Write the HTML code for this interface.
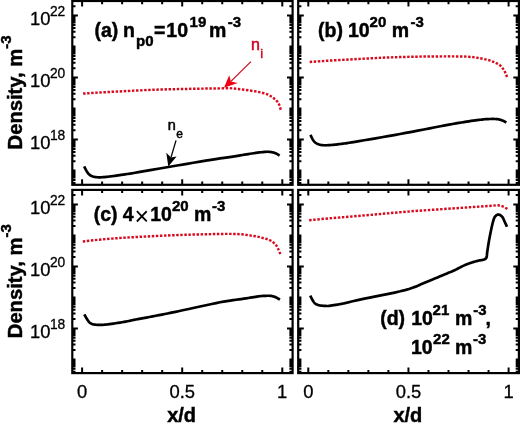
<!DOCTYPE html>
<html><head><meta charset="utf-8"><title>Density</title><style>
html,body{margin:0;padding:0;background:#fff;overflow:hidden}
svg{display:block;filter:blur(0.3px)}
text{font-family:"Liberation Sans",Arial,Helvetica,sans-serif}
.t{font-size:18.4px;stroke:#000;stroke-width:0.3px}
.b{font-weight:bold}
text[font-weight=bold],.b{stroke:#000;stroke-width:0.45px}
</style></head><body>
<svg width="520" height="423" viewBox="0 0 520 423">
<rect width="520" height="423" fill="#fff"/>
<path d="M82.1 184.8V179.2M82.1 1V6.6M102.12 184.8V181.6M102.12 1V4.2M122.14 184.8V181.6M122.14 1V4.2M142.16 184.8V181.6M142.16 1V4.2M162.18 184.8V181.6M162.18 1V4.2M182.2 184.8V179.2M182.2 1V6.6M202.22 184.8V181.6M202.22 1V4.2M222.24 184.8V181.6M222.24 1V4.2M242.26 184.8V181.6M242.26 1V4.2M262.28 184.8V181.6M262.28 1V4.2M282.3 184.8V179.2M282.3 1V6.6M72.3 182.94H75.5M292.6 182.94H289.4M72.3 179.93H75.5M292.6 179.93H289.4M72.3 177.48H75.5M292.6 177.48H289.4M72.3 175.4H75.5M292.6 175.4H289.4M72.3 173.6H75.5M292.6 173.6H289.4M72.3 172.02H75.5M292.6 172.02H289.4M72.3 170.6H75.5M292.6 170.6H289.4M72.3 161.27H75.5M292.6 161.27H289.4M72.3 155.81H75.5M292.6 155.81H289.4M72.3 151.94H75.5M292.6 151.94H289.4M72.3 148.93H75.5M292.6 148.93H289.4M72.3 146.48H75.5M292.6 146.48H289.4M72.3 144.4H75.5M292.6 144.4H289.4M72.3 142.6H75.5M292.6 142.6H289.4M72.3 141.02H75.5M292.6 141.02H289.4M72.3 139.6H77.9M292.6 139.6H287M72.3 130.27H75.5M292.6 130.27H289.4M72.3 124.81H75.5M292.6 124.81H289.4M72.3 120.94H75.5M292.6 120.94H289.4M72.3 117.93H75.5M292.6 117.93H289.4M72.3 115.48H75.5M292.6 115.48H289.4M72.3 113.4H75.5M292.6 113.4H289.4M72.3 111.6H75.5M292.6 111.6H289.4M72.3 110.02H75.5M292.6 110.02H289.4M72.3 108.6H75.5M292.6 108.6H289.4M72.3 99.27H75.5M292.6 99.27H289.4M72.3 93.81H75.5M292.6 93.81H289.4M72.3 89.94H75.5M292.6 89.94H289.4M72.3 86.93H75.5M292.6 86.93H289.4M72.3 84.48H75.5M292.6 84.48H289.4M72.3 82.4H75.5M292.6 82.4H289.4M72.3 80.6H75.5M292.6 80.6H289.4M72.3 79.02H75.5M292.6 79.02H289.4M72.3 77.6H77.9M292.6 77.6H287M72.3 68.27H75.5M292.6 68.27H289.4M72.3 62.81H75.5M292.6 62.81H289.4M72.3 58.94H75.5M292.6 58.94H289.4M72.3 55.93H75.5M292.6 55.93H289.4M72.3 53.48H75.5M292.6 53.48H289.4M72.3 51.4H75.5M292.6 51.4H289.4M72.3 49.6H75.5M292.6 49.6H289.4M72.3 48.02H75.5M292.6 48.02H289.4M72.3 46.6H75.5M292.6 46.6H289.4M72.3 37.27H75.5M292.6 37.27H289.4M72.3 31.81H75.5M292.6 31.81H289.4M72.3 27.94H75.5M292.6 27.94H289.4M72.3 24.93H75.5M292.6 24.93H289.4M72.3 22.48H75.5M292.6 22.48H289.4M72.3 20.4H75.5M292.6 20.4H289.4M72.3 18.6H75.5M292.6 18.6H289.4M72.3 17.02H75.5M292.6 17.02H289.4M72.3 15.6H77.9M292.6 15.6H287M72.3 6.27H75.5M292.6 6.27H289.4" stroke="#000" stroke-width="2.0" fill="none"/>
<rect x="72.3" y="1" width="220.3" height="183.8" stroke="#000" stroke-width="2.2" fill="none"/>
<path d="M308.3 184.8V179.2M308.3 1V6.6M328.33 184.8V181.6M328.33 1V4.2M348.36 184.8V181.6M348.36 1V4.2M368.39 184.8V181.6M368.39 1V4.2M388.42 184.8V181.6M388.42 1V4.2M408.45 184.8V179.2M408.45 1V6.6M428.48 184.8V181.6M428.48 1V4.2M448.51 184.8V181.6M448.51 1V4.2M468.54 184.8V181.6M468.54 1V4.2M488.57 184.8V181.6M488.57 1V4.2M508.6 184.8V179.2M508.6 1V6.6M298.2 182.94H301.4M518.9 182.94H515.7M298.2 179.93H301.4M518.9 179.93H515.7M298.2 177.48H301.4M518.9 177.48H515.7M298.2 175.4H301.4M518.9 175.4H515.7M298.2 173.6H301.4M518.9 173.6H515.7M298.2 172.02H301.4M518.9 172.02H515.7M298.2 170.6H301.4M518.9 170.6H515.7M298.2 161.27H301.4M518.9 161.27H515.7M298.2 155.81H301.4M518.9 155.81H515.7M298.2 151.94H301.4M518.9 151.94H515.7M298.2 148.93H301.4M518.9 148.93H515.7M298.2 146.48H301.4M518.9 146.48H515.7M298.2 144.4H301.4M518.9 144.4H515.7M298.2 142.6H301.4M518.9 142.6H515.7M298.2 141.02H301.4M518.9 141.02H515.7M298.2 139.6H303.8M518.9 139.6H513.3M298.2 130.27H301.4M518.9 130.27H515.7M298.2 124.81H301.4M518.9 124.81H515.7M298.2 120.94H301.4M518.9 120.94H515.7M298.2 117.93H301.4M518.9 117.93H515.7M298.2 115.48H301.4M518.9 115.48H515.7M298.2 113.4H301.4M518.9 113.4H515.7M298.2 111.6H301.4M518.9 111.6H515.7M298.2 110.02H301.4M518.9 110.02H515.7M298.2 108.6H301.4M518.9 108.6H515.7M298.2 99.27H301.4M518.9 99.27H515.7M298.2 93.81H301.4M518.9 93.81H515.7M298.2 89.94H301.4M518.9 89.94H515.7M298.2 86.93H301.4M518.9 86.93H515.7M298.2 84.48H301.4M518.9 84.48H515.7M298.2 82.4H301.4M518.9 82.4H515.7M298.2 80.6H301.4M518.9 80.6H515.7M298.2 79.02H301.4M518.9 79.02H515.7M298.2 77.6H303.8M518.9 77.6H513.3M298.2 68.27H301.4M518.9 68.27H515.7M298.2 62.81H301.4M518.9 62.81H515.7M298.2 58.94H301.4M518.9 58.94H515.7M298.2 55.93H301.4M518.9 55.93H515.7M298.2 53.48H301.4M518.9 53.48H515.7M298.2 51.4H301.4M518.9 51.4H515.7M298.2 49.6H301.4M518.9 49.6H515.7M298.2 48.02H301.4M518.9 48.02H515.7M298.2 46.6H301.4M518.9 46.6H515.7M298.2 37.27H301.4M518.9 37.27H515.7M298.2 31.81H301.4M518.9 31.81H515.7M298.2 27.94H301.4M518.9 27.94H515.7M298.2 24.93H301.4M518.9 24.93H515.7M298.2 22.48H301.4M518.9 22.48H515.7M298.2 20.4H301.4M518.9 20.4H515.7M298.2 18.6H301.4M518.9 18.6H515.7M298.2 17.02H301.4M518.9 17.02H515.7M298.2 15.6H303.8M518.9 15.6H513.3M298.2 6.27H301.4M518.9 6.27H515.7" stroke="#000" stroke-width="2.0" fill="none"/>
<rect x="298.2" y="1" width="220.7" height="183.8" stroke="#000" stroke-width="2.2" fill="none"/>
<path d="M82.1 373.1V367.5M82.1 189.9V195.5M102.12 373.1V369.9M102.12 189.9V193.1M122.14 373.1V369.9M122.14 189.9V193.1M142.16 373.1V369.9M142.16 189.9V193.1M162.18 373.1V369.9M162.18 189.9V193.1M182.2 373.1V367.5M182.2 189.9V195.5M202.22 373.1V369.9M202.22 189.9V193.1M222.24 373.1V369.9M222.24 189.9V193.1M242.26 373.1V369.9M242.26 189.9V193.1M262.28 373.1V369.9M262.28 189.9V193.1M282.3 373.1V367.5M282.3 189.9V195.5M72.3 371.74H75.5M292.6 371.74H289.4M72.3 368.73H75.5M292.6 368.73H289.4M72.3 366.28H75.5M292.6 366.28H289.4M72.3 364.2H75.5M292.6 364.2H289.4M72.3 362.4H75.5M292.6 362.4H289.4M72.3 360.82H75.5M292.6 360.82H289.4M72.3 359.4H75.5M292.6 359.4H289.4M72.3 350.07H75.5M292.6 350.07H289.4M72.3 344.61H75.5M292.6 344.61H289.4M72.3 340.74H75.5M292.6 340.74H289.4M72.3 337.73H75.5M292.6 337.73H289.4M72.3 335.28H75.5M292.6 335.28H289.4M72.3 333.2H75.5M292.6 333.2H289.4M72.3 331.4H75.5M292.6 331.4H289.4M72.3 329.82H75.5M292.6 329.82H289.4M72.3 328.4H77.9M292.6 328.4H287M72.3 319.07H75.5M292.6 319.07H289.4M72.3 313.61H75.5M292.6 313.61H289.4M72.3 309.74H75.5M292.6 309.74H289.4M72.3 306.73H75.5M292.6 306.73H289.4M72.3 304.28H75.5M292.6 304.28H289.4M72.3 302.2H75.5M292.6 302.2H289.4M72.3 300.4H75.5M292.6 300.4H289.4M72.3 298.82H75.5M292.6 298.82H289.4M72.3 297.4H75.5M292.6 297.4H289.4M72.3 288.07H75.5M292.6 288.07H289.4M72.3 282.61H75.5M292.6 282.61H289.4M72.3 278.74H75.5M292.6 278.74H289.4M72.3 275.73H75.5M292.6 275.73H289.4M72.3 273.28H75.5M292.6 273.28H289.4M72.3 271.2H75.5M292.6 271.2H289.4M72.3 269.4H75.5M292.6 269.4H289.4M72.3 267.82H75.5M292.6 267.82H289.4M72.3 266.4H77.9M292.6 266.4H287M72.3 257.07H75.5M292.6 257.07H289.4M72.3 251.61H75.5M292.6 251.61H289.4M72.3 247.74H75.5M292.6 247.74H289.4M72.3 244.73H75.5M292.6 244.73H289.4M72.3 242.28H75.5M292.6 242.28H289.4M72.3 240.2H75.5M292.6 240.2H289.4M72.3 238.4H75.5M292.6 238.4H289.4M72.3 236.82H75.5M292.6 236.82H289.4M72.3 235.4H75.5M292.6 235.4H289.4M72.3 226.07H75.5M292.6 226.07H289.4M72.3 220.61H75.5M292.6 220.61H289.4M72.3 216.74H75.5M292.6 216.74H289.4M72.3 213.73H75.5M292.6 213.73H289.4M72.3 211.28H75.5M292.6 211.28H289.4M72.3 209.2H75.5M292.6 209.2H289.4M72.3 207.4H75.5M292.6 207.4H289.4M72.3 205.82H75.5M292.6 205.82H289.4M72.3 204.4H77.9M292.6 204.4H287M72.3 195.07H75.5M292.6 195.07H289.4" stroke="#000" stroke-width="2.0" fill="none"/>
<rect x="72.3" y="189.9" width="220.3" height="183.2" stroke="#000" stroke-width="2.2" fill="none"/>
<path d="M308.3 373.1V367.5M308.3 189.9V195.5M328.33 373.1V369.9M328.33 189.9V193.1M348.36 373.1V369.9M348.36 189.9V193.1M368.39 373.1V369.9M368.39 189.9V193.1M388.42 373.1V369.9M388.42 189.9V193.1M408.45 373.1V367.5M408.45 189.9V195.5M428.48 373.1V369.9M428.48 189.9V193.1M448.51 373.1V369.9M448.51 189.9V193.1M468.54 373.1V369.9M468.54 189.9V193.1M488.57 373.1V369.9M488.57 189.9V193.1M508.6 373.1V367.5M508.6 189.9V195.5M298.2 371.74H301.4M518.9 371.74H515.7M298.2 368.73H301.4M518.9 368.73H515.7M298.2 366.28H301.4M518.9 366.28H515.7M298.2 364.2H301.4M518.9 364.2H515.7M298.2 362.4H301.4M518.9 362.4H515.7M298.2 360.82H301.4M518.9 360.82H515.7M298.2 359.4H301.4M518.9 359.4H515.7M298.2 350.07H301.4M518.9 350.07H515.7M298.2 344.61H301.4M518.9 344.61H515.7M298.2 340.74H301.4M518.9 340.74H515.7M298.2 337.73H301.4M518.9 337.73H515.7M298.2 335.28H301.4M518.9 335.28H515.7M298.2 333.2H301.4M518.9 333.2H515.7M298.2 331.4H301.4M518.9 331.4H515.7M298.2 329.82H301.4M518.9 329.82H515.7M298.2 328.4H303.8M518.9 328.4H513.3M298.2 319.07H301.4M518.9 319.07H515.7M298.2 313.61H301.4M518.9 313.61H515.7M298.2 309.74H301.4M518.9 309.74H515.7M298.2 306.73H301.4M518.9 306.73H515.7M298.2 304.28H301.4M518.9 304.28H515.7M298.2 302.2H301.4M518.9 302.2H515.7M298.2 300.4H301.4M518.9 300.4H515.7M298.2 298.82H301.4M518.9 298.82H515.7M298.2 297.4H301.4M518.9 297.4H515.7M298.2 288.07H301.4M518.9 288.07H515.7M298.2 282.61H301.4M518.9 282.61H515.7M298.2 278.74H301.4M518.9 278.74H515.7M298.2 275.73H301.4M518.9 275.73H515.7M298.2 273.28H301.4M518.9 273.28H515.7M298.2 271.2H301.4M518.9 271.2H515.7M298.2 269.4H301.4M518.9 269.4H515.7M298.2 267.82H301.4M518.9 267.82H515.7M298.2 266.4H303.8M518.9 266.4H513.3M298.2 257.07H301.4M518.9 257.07H515.7M298.2 251.61H301.4M518.9 251.61H515.7M298.2 247.74H301.4M518.9 247.74H515.7M298.2 244.73H301.4M518.9 244.73H515.7M298.2 242.28H301.4M518.9 242.28H515.7M298.2 240.2H301.4M518.9 240.2H515.7M298.2 238.4H301.4M518.9 238.4H515.7M298.2 236.82H301.4M518.9 236.82H515.7M298.2 235.4H301.4M518.9 235.4H515.7M298.2 226.07H301.4M518.9 226.07H515.7M298.2 220.61H301.4M518.9 220.61H515.7M298.2 216.74H301.4M518.9 216.74H515.7M298.2 213.73H301.4M518.9 213.73H515.7M298.2 211.28H301.4M518.9 211.28H515.7M298.2 209.2H301.4M518.9 209.2H515.7M298.2 207.4H301.4M518.9 207.4H515.7M298.2 205.82H301.4M518.9 205.82H515.7M298.2 204.4H303.8M518.9 204.4H513.3M298.2 195.07H301.4M518.9 195.07H515.7" stroke="#000" stroke-width="2.0" fill="none"/>
<rect x="298.2" y="189.9" width="220.7" height="183.2" stroke="#000" stroke-width="2.2" fill="none"/>
<path d="M84.2 166.4 L84.43 166.86 L84.65 167.32 L84.88 167.79 L85.11 168.26 L85.34 168.72 L85.56 169.17 L85.78 169.6 L86 170 L86.21 170.38 L86.41 170.74 L86.61 171.08 L86.81 171.41 L87.01 171.73 L87.2 172.03 L87.4 172.32 L87.6 172.6 L87.79 172.86 L87.98 173.11 L88.16 173.34 L88.34 173.56 L88.53 173.77 L88.73 173.98 L88.95 174.19 L89.2 174.4 L89.47 174.62 L89.75 174.85 L90.04 175.08 L90.36 175.3 L90.69 175.52 L91.04 175.73 L91.41 175.92 L91.8 176.1 L92.22 176.26 L92.65 176.42 L93.11 176.56 L93.58 176.69 L94.08 176.81 L94.6 176.92 L95.14 177.02 L95.7 177.1 L96.28 177.17 L96.87 177.23 L97.48 177.27 L98.11 177.31 L98.77 177.33 L99.47 177.33 L100.21 177.32 L101 177.3 L101.85 177.26 L102.74 177.2 L103.68 177.13 L104.66 177.04 L105.66 176.94 L106.69 176.83 L107.74 176.72 L108.8 176.6 L109.81 176.49 L110.74 176.38 L111.65 176.27 L112.61 176.16 L113.66 176.02 L114.87 175.85 L116.3 175.65 L118 175.4 L119.74 175.15 L121.37 174.91 L123.06 174.67 L124.98 174.39 L127.31 174.03 L130.23 173.57 L133.9 172.97 L138.5 172.2 L144.41 171.19 L151.62 169.95 L159.74 168.53 L168.37 167.03 L177.11 165.51 L185.56 164.05 L193.32 162.72 L200 161.6 L205.73 160.67 L210.95 159.84 L215.71 159.11 L220.06 158.46 L224.07 157.87 L227.8 157.32 L231.29 156.81 L234.6 156.3 L237.61 155.82 L240.22 155.4 L242.5 155.02 L244.54 154.67 L246.42 154.36 L248.22 154.06 L250.02 153.78 L251.9 153.5 L253.85 153.22 L255.78 152.94 L257.67 152.68 L259.5 152.44 L261.25 152.22 L262.9 152.04 L264.42 151.89 L265.8 151.8 L267.02 151.76 L268.09 151.77 L269.04 151.83 L269.88 151.91 L270.65 152.02 L271.36 152.15 L272.03 152.28 L272.7 152.4 L273.33 152.52 L273.88 152.66 L274.38 152.81 L274.84 152.97 L275.26 153.14 L275.67 153.32 L276.08 153.5 L276.5 153.7 L276.92 153.91 L277.32 154.13 L277.71 154.37 L278.09 154.61 L278.47 154.86 L278.84 155.11 L279.22 155.36 L279.6 155.6" stroke="#000" stroke-width="2.7" fill="none" stroke-linejoin="round" stroke-linecap="butt"/>
<path d="M310.4 134.8 L310.67 135.36 L310.95 135.93 L311.22 136.51 L311.49 137.08 L311.76 137.65 L312.04 138.19 L312.32 138.71 L312.6 139.2 L312.88 139.66 L313.16 140.09 L313.44 140.51 L313.72 140.9 L314.01 141.28 L314.32 141.63 L314.65 141.97 L315 142.3 L315.38 142.61 L315.77 142.9 L316.18 143.18 L316.61 143.44 L317.06 143.68 L317.52 143.9 L318 144.11 L318.5 144.3 L319.01 144.47 L319.52 144.63 L320.04 144.76 L320.59 144.88 L321.16 144.98 L321.76 145.07 L322.41 145.14 L323.1 145.2 L323.83 145.24 L324.58 145.27 L325.37 145.28 L326.19 145.27 L327.06 145.25 L327.98 145.22 L328.95 145.17 L330 145.1 L331.1 145.02 L332.26 144.92 L333.46 144.81 L334.72 144.68 L336.04 144.54 L337.42 144.38 L338.88 144.2 L340.4 144 L341.82 143.82 L343.04 143.66 L344.23 143.5 L345.54 143.32 L347.11 143.08 L349.11 142.77 L351.69 142.35 L355 141.8 L359.17 141.1 L364.11 140.26 L369.65 139.32 L375.6 138.3 L381.79 137.23 L388.04 136.14 L394.17 135.05 L400 134 L405.77 132.93 L411.75 131.8 L417.81 130.64 L423.82 129.47 L429.68 128.33 L435.24 127.25 L440.39 126.27 L445 125.4 L449.05 124.66 L452.66 124.01 L455.89 123.44 L458.81 122.93 L461.49 122.48 L464 122.06 L466.41 121.68 L468.8 121.3 L471.11 120.95 L473.26 120.64 L475.26 120.36 L477.12 120.12 L478.84 119.91 L480.44 119.72 L481.92 119.55 L483.3 119.4 L484.51 119.27 L485.52 119.18 L486.37 119.12 L487.12 119.08 L487.81 119.05 L488.49 119.03 L489.2 119.02 L490 119 L490.88 118.98 L491.8 118.97 L492.73 118.97 L493.67 118.97 L494.58 118.98 L495.45 119.01 L496.27 119.05 L497 119.1 L497.65 119.17 L498.23 119.26 L498.76 119.37 L499.25 119.48 L499.71 119.61 L500.14 119.74 L500.57 119.87 L501 120 L501.43 120.13 L501.84 120.27 L502.23 120.42 L502.61 120.57 L502.97 120.72 L503.32 120.88 L503.67 121.04 L504 121.2 L504.32 121.37 L504.62 121.54 L504.91 121.71 L505.19 121.89 L505.47 122.07 L505.74 122.25 L506.02 122.42 L506.3 122.6" stroke="#000" stroke-width="2.7" fill="none" stroke-linejoin="round" stroke-linecap="butt"/>
<path d="M84.3 314.4 L84.61 314.96 L84.93 315.53 L85.25 316.11 L85.57 316.68 L85.88 317.25 L86.2 317.79 L86.5 318.31 L86.8 318.8 L87.09 319.26 L87.38 319.7 L87.66 320.12 L87.93 320.53 L88.2 320.9 L88.47 321.26 L88.74 321.59 L89 321.9 L89.26 322.18 L89.5 322.42 L89.74 322.64 L89.98 322.84 L90.22 323.02 L90.47 323.18 L90.73 323.34 L91 323.5 L91.28 323.65 L91.57 323.79 L91.86 323.91 L92.16 324.02 L92.47 324.13 L92.79 324.23 L93.14 324.32 L93.5 324.4 L93.89 324.48 L94.29 324.54 L94.72 324.6 L95.16 324.65 L95.61 324.69 L96.07 324.73 L96.53 324.77 L97 324.8 L97.46 324.83 L97.89 324.86 L98.33 324.89 L98.78 324.91 L99.26 324.93 L99.78 324.93 L100.35 324.92 L101 324.9 L101.67 324.87 L102.33 324.84 L103.01 324.81 L103.75 324.76 L104.58 324.69 L105.55 324.59 L106.67 324.47 L108 324.3 L109.58 324.09 L111.41 323.84 L113.43 323.55 L115.56 323.24 L117.75 322.91 L119.93 322.57 L122.03 322.23 L124 321.9 L125.78 321.58 L127.41 321.27 L128.96 320.95 L130.5 320.63 L132.11 320.29 L133.84 319.93 L135.79 319.53 L138 319.1 L140.53 318.62 L143.32 318.1 L146.31 317.55 L149.44 316.98 L152.63 316.38 L155.84 315.79 L158.98 315.19 L162 314.6 L164.84 314.03 L167.54 313.48 L170.17 312.94 L172.81 312.39 L175.54 311.81 L178.43 311.2 L181.56 310.53 L185 309.8 L188.88 308.97 L193.17 308.02 L197.74 307.01 L202.45 305.98 L207.17 304.95 L211.76 303.96 L216.08 303.07 L220 302.3 L223.57 301.65 L226.96 301.1 L230.15 300.61 L233.18 300.18 L236.05 299.78 L238.77 299.42 L241.35 299.06 L243.8 298.7 L246.12 298.34 L248.29 297.99 L250.31 297.66 L252.18 297.36 L253.92 297.07 L255.51 296.82 L256.97 296.59 L258.3 296.4 L259.43 296.25 L260.34 296.14 L261.07 296.06 L261.68 296.01 L262.23 295.98 L262.76 295.95 L263.33 295.93 L264 295.9 L264.75 295.86 L265.53 295.83 L266.32 295.79 L267.11 295.77 L267.88 295.75 L268.63 295.75 L269.34 295.77 L270 295.8 L270.6 295.85 L271.16 295.93 L271.69 296.01 L272.19 296.11 L272.66 296.22 L273.12 296.34 L273.56 296.47 L274 296.6 L274.42 296.74 L274.82 296.88 L275.2 297.03 L275.57 297.19 L275.93 297.35 L276.28 297.53 L276.64 297.71 L277 297.9 L277.37 298.1 L277.73 298.31 L278.09 298.54 L278.46 298.77 L278.82 299 L279.18 299.24 L279.54 299.47 L279.9 299.7" stroke="#000" stroke-width="2.7" fill="none" stroke-linejoin="round" stroke-linecap="butt"/>
<path d="M310.2 295.6 L310.49 296.16 L310.78 296.74 L311.08 297.32 L311.37 297.89 L311.66 298.46 L311.95 299.01 L312.23 299.52 L312.5 300 L312.76 300.44 L313.01 300.86 L313.25 301.25 L313.49 301.62 L313.73 301.97 L313.97 302.29 L314.23 302.61 L314.5 302.9 L314.78 303.18 L315.07 303.43 L315.37 303.66 L315.67 303.87 L315.98 304.07 L316.31 304.26 L316.65 304.43 L317 304.6 L317.36 304.75 L317.74 304.89 L318.12 305.02 L318.51 305.13 L318.92 305.23 L319.36 305.33 L319.82 305.42 L320.3 305.5 L320.82 305.58 L321.38 305.65 L321.97 305.71 L322.58 305.76 L323.19 305.81 L323.81 305.85 L324.41 305.88 L325 305.9 L325.51 305.93 L325.92 305.96 L326.29 306 L326.68 306.02 L327.13 306.02 L327.72 305.99 L328.49 305.92 L329.5 305.8 L330.77 305.63 L332.25 305.42 L333.91 305.17 L335.69 304.89 L337.58 304.58 L339.51 304.24 L341.47 303.88 L343.4 303.5 L345.15 303.13 L346.69 302.77 L348.18 302.4 L349.76 302 L351.58 301.54 L353.79 301.01 L356.55 300.37 L360 299.6 L364.41 298.68 L369.76 297.6 L375.75 296.42 L382.08 295.16 L388.47 293.86 L394.61 292.56 L400.22 291.3 L405 290.1 L409 288.95 L412.51 287.79 L415.62 286.63 L418.42 285.49 L421 284.36 L423.45 283.27 L425.85 282.21 L428.3 281.2 L430.75 280.22 L433.11 279.27 L435.36 278.34 L437.51 277.45 L439.55 276.59 L441.48 275.78 L443.3 275.01 L445 274.3 L446.54 273.66 L447.9 273.09 L449.12 272.59 L450.24 272.12 L451.31 271.67 L452.37 271.21 L453.45 270.73 L454.6 270.2 L455.83 269.61 L457.11 268.98 L458.41 268.32 L459.7 267.66 L460.95 267.02 L462.14 266.41 L463.23 265.87 L464.2 265.4 L465.03 265.02 L465.74 264.71 L466.35 264.46 L466.9 264.25 L467.41 264.06 L467.91 263.89 L468.43 263.7 L469 263.5 L469.59 263.28 L470.18 263.08 L470.76 262.87 L471.34 262.68 L471.93 262.48 L472.53 262.29 L473.15 262.09 L473.8 261.9 L474.49 261.7 L475.24 261.5 L476.01 261.29 L476.79 261.09 L477.56 260.89 L478.3 260.71 L478.98 260.54 L479.6 260.4 L480.14 260.29 L480.62 260.22 L481.06 260.17 L481.46 260.12 L481.84 260.08 L482.21 260.02 L482.6 259.93 L483 259.8 L483.43 259.66 L483.89 259.52 L484.35 259.38 L484.8 259.21 L485.24 259 L485.64 258.72 L486 258.36 L486.3 257.9 L486.53 257.34 L486.7 256.69 L486.82 255.97 L486.91 255.18 L486.99 254.33 L487.07 253.43 L487.17 252.48 L487.3 251.5 L487.46 250.45 L487.64 249.3 L487.82 248.09 L488.01 246.83 L488.21 245.56 L488.41 244.3 L488.6 243.07 L488.8 241.9 L488.99 240.8 L489.17 239.75 L489.36 238.74 L489.54 237.73 L489.74 236.71 L489.94 235.67 L490.16 234.57 L490.4 233.4 L490.66 232.12 L490.95 230.72 L491.25 229.26 L491.57 227.78 L491.89 226.31 L492.2 224.92 L492.51 223.63 L492.8 222.5 L493.07 221.52 L493.31 220.63 L493.55 219.83 L493.78 219.11 L494.02 218.46 L494.28 217.86 L494.57 217.31 L494.9 216.8 L495.27 216.32 L495.67 215.88 L496.1 215.49 L496.54 215.15 L497 214.88 L497.47 214.67 L497.94 214.54 L498.4 214.5 L498.87 214.55 L499.36 214.69 L499.86 214.92 L500.37 215.21 L500.86 215.55 L501.34 215.94 L501.79 216.36 L502.2 216.8 L502.57 217.28 L502.9 217.81 L503.2 218.4 L503.49 219.02 L503.76 219.66 L504.03 220.31 L504.31 220.96 L504.6 221.6 L504.9 222.23 L505.2 222.87 L505.5 223.52 L505.8 224.17 L506.1 224.83 L506.4 225.49 L506.7 226.15 L507 226.8" stroke="#000" stroke-width="2.7" fill="none" stroke-linejoin="round" stroke-linecap="butt"/>
<g fill="#d80a1e"><rect x="83.08" y="92.28" width="2.45" height="2.45" transform="rotate(-3.7 84.3 93.5)"/><rect x="87.14" y="92.01" width="2.45" height="2.45" transform="rotate(-3.7 88.37 93.24)"/><rect x="91.21" y="91.75" width="2.45" height="2.45" transform="rotate(-3.7 92.44 92.97)"/><rect x="95.28" y="91.49" width="2.45" height="2.45" transform="rotate(-3.6 96.51 92.71)"/><rect x="99.35" y="91.24" width="2.45" height="2.45" transform="rotate(-3.4 100.58 92.47)"/><rect x="103.42" y="91" width="2.45" height="2.45" transform="rotate(-3.3 104.65 92.23)"/><rect x="107.49" y="90.77" width="2.45" height="2.45" transform="rotate(-3.2 108.72 92)"/><rect x="111.57" y="90.55" width="2.45" height="2.45" transform="rotate(-3.1 112.79 91.78)"/><rect x="115.64" y="90.34" width="2.45" height="2.45" transform="rotate(-3.0 116.86 91.56)"/><rect x="119.71" y="90.13" width="2.45" height="2.45" transform="rotate(-3.0 120.93 91.35)"/><rect x="123.78" y="89.91" width="2.45" height="2.45" transform="rotate(-3.0 125.01 91.14)"/><rect x="127.85" y="89.7" width="2.45" height="2.45" transform="rotate(-3.1 129.08 90.92)"/><rect x="131.93" y="89.48" width="2.45" height="2.45" transform="rotate(-3.0 133.15 90.71)"/><rect x="136" y="89.27" width="2.45" height="2.45" transform="rotate(-2.9 137.22 90.49)"/><rect x="140.07" y="89.07" width="2.45" height="2.45" transform="rotate(-2.8 141.3 90.29)"/><rect x="144.14" y="88.87" width="2.45" height="2.45" transform="rotate(-2.6 145.37 90.1)"/><rect x="148.22" y="88.69" width="2.45" height="2.45" transform="rotate(-2.4 149.44 89.92)"/><rect x="152.29" y="88.53" width="2.45" height="2.45" transform="rotate(-2.1 153.52 89.75)"/><rect x="156.37" y="88.39" width="2.45" height="2.45" transform="rotate(-1.9 157.59 89.61)"/><rect x="160.44" y="88.26" width="2.45" height="2.45" transform="rotate(-1.6 161.67 89.49)"/><rect x="164.52" y="88.15" width="2.45" height="2.45" transform="rotate(-1.5 165.74 89.37)"/><rect x="168.59" y="88.05" width="2.45" height="2.45" transform="rotate(-1.4 169.82 89.27)"/><rect x="172.67" y="87.96" width="2.45" height="2.45" transform="rotate(-1.3 173.9 89.18)"/><rect x="176.75" y="87.87" width="2.45" height="2.45" transform="rotate(-1.2 177.97 89.09)"/><rect x="180.82" y="87.79" width="2.45" height="2.45" transform="rotate(-1.1 182.05 89.01)"/><rect x="184.9" y="87.71" width="2.45" height="2.45" transform="rotate(-1.1 186.13 88.93)"/><rect x="188.98" y="87.63" width="2.45" height="2.45" transform="rotate(-1.1 190.2 88.85)"/><rect x="193.05" y="87.55" width="2.45" height="2.45" transform="rotate(-1.1 194.28 88.78)"/><rect x="197.13" y="87.47" width="2.45" height="2.45" transform="rotate(-1.0 198.36 88.7)"/><rect x="201.21" y="87.4" width="2.45" height="2.45" transform="rotate(-1.0 202.43 88.63)"/><rect x="205.29" y="87.34" width="2.45" height="2.45" transform="rotate(-0.9 206.51 88.56)"/><rect x="209.36" y="87.28" width="2.45" height="2.45" transform="rotate(-0.8 210.59 88.5)"/><rect x="213.44" y="87.22" width="2.45" height="2.45" transform="rotate(-0.8 214.67 88.44)"/><rect x="217.52" y="87.16" width="2.45" height="2.45" transform="rotate(-0.8 218.74 88.39)"/><rect x="221.59" y="87.11" width="2.45" height="2.45" transform="rotate(-0.7 222.82 88.34)"/><rect x="225.67" y="87.07" width="2.45" height="2.45" transform="rotate(-0.6 226.9 88.29)"/><rect x="229.75" y="87.05" width="2.45" height="2.45" transform="rotate(6.1 230.97 88.28)"/><rect x="233.81" y="87.42" width="2.45" height="2.45" transform="rotate(5.9 235.03 88.65)"/><rect x="237.86" y="87.88" width="2.45" height="2.45" transform="rotate(6.9 239.09 89.11)"/><rect x="241.91" y="88.38" width="2.45" height="2.45" transform="rotate(7.4 243.13 89.61)"/><rect x="245.95" y="88.93" width="2.45" height="2.45" transform="rotate(8.1 247.17 90.16)"/><rect x="249.98" y="89.52" width="2.45" height="2.45" transform="rotate(8.3 251.21 90.75)"/><rect x="254.02" y="90.12" width="2.45" height="2.45" transform="rotate(9.1 255.24 91.35)"/><rect x="258.02" y="90.88" width="2.45" height="2.45" transform="rotate(12.2 259.25 92.1)"/><rect x="261.99" y="91.83" width="2.45" height="2.45" transform="rotate(14.8 263.21 93.05)"/><rect x="265.88" y="93.04" width="2.45" height="2.45" transform="rotate(21.7 267.1 94.26)"/><rect x="269.5" y="94.91" width="2.45" height="2.45" transform="rotate(31.3 270.72 96.13)"/><rect x="272.84" y="97.25" width="2.45" height="2.45" transform="rotate(37.1 274.06 98.47)"/><rect x="275.82" y="100" width="2.45" height="2.45" transform="rotate(52.2 277.05 101.23)"/><rect x="277.88" y="103.51" width="2.45" height="2.45" transform="rotate(66.2 279.11 104.74)"/><rect x="279.17" y="107.37" width="2.45" height="2.45" transform="rotate(71.3 280.4 108.6)"/></g>
<g fill="#d80a1e"><rect x="309.67" y="60.67" width="2.45" height="2.45" transform="rotate(-4.1 310.9 61.9)"/><rect x="313.73" y="60.38" width="2.45" height="2.45" transform="rotate(-4.2 314.96 61.61)"/><rect x="317.79" y="60.09" width="2.45" height="2.45" transform="rotate(-4.1 319.01 61.31)"/><rect x="321.84" y="59.8" width="2.45" height="2.45" transform="rotate(-3.9 323.07 61.03)"/><rect x="325.9" y="59.54" width="2.45" height="2.45" transform="rotate(-3.6 327.13 60.76)"/><rect x="329.96" y="59.29" width="2.45" height="2.45" transform="rotate(-3.4 331.19 60.51)"/><rect x="334.02" y="59.05" width="2.45" height="2.45" transform="rotate(-3.3 335.25 60.27)"/><rect x="338.08" y="58.81" width="2.45" height="2.45" transform="rotate(-3.3 339.31 60.04)"/><rect x="342.14" y="58.58" width="2.45" height="2.45" transform="rotate(-3.2 343.37 59.81)"/><rect x="346.2" y="58.36" width="2.45" height="2.45" transform="rotate(-3.2 347.43 59.58)"/><rect x="350.26" y="58.13" width="2.45" height="2.45" transform="rotate(-3.1 351.49 59.36)"/><rect x="354.32" y="57.91" width="2.45" height="2.45" transform="rotate(-3.1 355.55 59.14)"/><rect x="358.39" y="57.7" width="2.45" height="2.45" transform="rotate(-3.1 359.61 58.92)"/><rect x="362.45" y="57.48" width="2.45" height="2.45" transform="rotate(-3.2 363.67 58.7)"/><rect x="366.51" y="57.25" width="2.45" height="2.45" transform="rotate(-3.2 367.73 58.48)"/><rect x="370.57" y="57.03" width="2.45" height="2.45" transform="rotate(-3.1 371.79 58.25)"/><rect x="374.63" y="56.81" width="2.45" height="2.45" transform="rotate(-3.0 375.85 58.04)"/><rect x="378.69" y="56.61" width="2.45" height="2.45" transform="rotate(-2.8 379.92 57.83)"/><rect x="382.75" y="56.42" width="2.45" height="2.45" transform="rotate(-2.5 383.98 57.64)"/><rect x="386.82" y="56.25" width="2.45" height="2.45" transform="rotate(-2.3 388.04 57.48)"/><rect x="390.88" y="56.09" width="2.45" height="2.45" transform="rotate(-2.1 392.11 57.32)"/><rect x="394.94" y="55.95" width="2.45" height="2.45" transform="rotate(-1.9 396.17 57.18)"/><rect x="399.01" y="55.82" width="2.45" height="2.45" transform="rotate(-1.7 400.23 57.05)"/><rect x="403.07" y="55.71" width="2.45" height="2.45" transform="rotate(-1.5 404.3 56.94)"/><rect x="407.14" y="55.61" width="2.45" height="2.45" transform="rotate(-1.3 408.37 56.84)"/><rect x="411.21" y="55.52" width="2.45" height="2.45" transform="rotate(-1.1 412.43 56.75)"/><rect x="415.27" y="55.45" width="2.45" height="2.45" transform="rotate(-1.0 416.5 56.67)"/><rect x="419.34" y="55.38" width="2.45" height="2.45" transform="rotate(-0.9 420.56 56.61)"/><rect x="423.41" y="55.33" width="2.45" height="2.45" transform="rotate(-0.8 424.63 56.55)"/><rect x="427.47" y="55.27" width="2.45" height="2.45" transform="rotate(-0.7 428.7 56.5)"/><rect x="431.54" y="55.23" width="2.45" height="2.45" transform="rotate(-0.6 432.76 56.46)"/><rect x="435.61" y="55.2" width="2.45" height="2.45" transform="rotate(-0.4 436.83 56.42)"/><rect x="439.67" y="55.17" width="2.45" height="2.45" transform="rotate(-0.3 440.9 56.4)"/><rect x="443.74" y="55.16" width="2.45" height="2.45" transform="rotate(-0.1 444.96 56.38)"/><rect x="447.81" y="55.15" width="2.45" height="2.45" transform="rotate(0.0 449.03 56.38)"/><rect x="451.87" y="55.16" width="2.45" height="2.45" transform="rotate(0.3 453.1 56.39)"/><rect x="455.94" y="55.19" width="2.45" height="2.45" transform="rotate(0.5 457.16 56.42)"/><rect x="460.01" y="55.24" width="2.45" height="2.45" transform="rotate(0.9 461.23 56.47)"/><rect x="464.07" y="55.34" width="2.45" height="2.45" transform="rotate(1.9 465.3 56.56)"/><rect x="468.13" y="55.57" width="2.45" height="2.45" transform="rotate(5.3 469.36 56.8)"/><rect x="472.17" y="56.01" width="2.45" height="2.45" transform="rotate(7.1 473.4 57.24)"/><rect x="476.2" y="56.61" width="2.45" height="2.45" transform="rotate(9.5 477.42 57.84)"/><rect x="480.2" y="57.33" width="2.45" height="2.45" transform="rotate(10.7 481.42 58.55)"/><rect x="484.19" y="58.14" width="2.45" height="2.45" transform="rotate(12.2 485.41 59.36)"/><rect x="488.14" y="59.08" width="2.45" height="2.45" transform="rotate(15.9 489.36 60.31)"/><rect x="491.94" y="60.52" width="2.45" height="2.45" transform="rotate(21.9 493.17 61.74)"/><rect x="495.64" y="62.21" width="2.45" height="2.45" transform="rotate(26.8 496.86 63.43)"/><rect x="499.07" y="64.37" width="2.45" height="2.45" transform="rotate(41.6 500.3 65.59)"/><rect x="501.75" y="67.42" width="2.45" height="2.45" transform="rotate(53.0 502.97 68.65)"/><rect x="503.78" y="70.93" width="2.45" height="2.45" transform="rotate(65.9 505.01 72.16)"/><rect x="505.37" y="74.67" width="2.45" height="2.45" transform="rotate(66.3 506.6 75.9)"/></g>
<g fill="#d80a1e"><rect x="82.78" y="240.08" width="2.45" height="2.45" transform="rotate(-6.1 84 241.3)"/><rect x="86.82" y="239.63" width="2.45" height="2.45" transform="rotate(-6.4 88.05 240.86)"/><rect x="90.87" y="239.18" width="2.45" height="2.45" transform="rotate(-6.3 92.09 240.41)"/><rect x="94.92" y="238.75" width="2.45" height="2.45" transform="rotate(-5.8 96.14 239.97)"/><rect x="98.97" y="238.36" width="2.45" height="2.45" transform="rotate(-5.2 100.2 239.58)"/><rect x="103.03" y="237.99" width="2.45" height="2.45" transform="rotate(-5.1 104.25 239.22)"/><rect x="107.08" y="237.64" width="2.45" height="2.45" transform="rotate(-4.7 108.31 238.87)"/><rect x="111.14" y="237.32" width="2.45" height="2.45" transform="rotate(-4.4 112.37 238.54)"/><rect x="115.2" y="237.02" width="2.45" height="2.45" transform="rotate(-4.0 116.43 238.24)"/><rect x="119.26" y="236.74" width="2.45" height="2.45" transform="rotate(-3.8 120.49 237.97)"/><rect x="123.33" y="236.48" width="2.45" height="2.45" transform="rotate(-3.6 124.55 237.71)"/><rect x="127.39" y="236.24" width="2.45" height="2.45" transform="rotate(-3.4 128.62 237.46)"/><rect x="131.46" y="236" width="2.45" height="2.45" transform="rotate(-3.3 132.68 237.23)"/><rect x="135.52" y="235.77" width="2.45" height="2.45" transform="rotate(-3.2 136.75 237)"/><rect x="139.59" y="235.55" width="2.45" height="2.45" transform="rotate(-3.1 140.81 236.78)"/><rect x="143.65" y="235.34" width="2.45" height="2.45" transform="rotate(-3.0 144.88 236.56)"/><rect x="147.72" y="235.13" width="2.45" height="2.45" transform="rotate(-2.9 148.94 236.35)"/><rect x="151.79" y="234.92" width="2.45" height="2.45" transform="rotate(-2.9 153.01 236.15)"/><rect x="155.85" y="234.72" width="2.45" height="2.45" transform="rotate(-2.8 157.08 235.95)"/><rect x="159.92" y="234.52" width="2.45" height="2.45" transform="rotate(-2.7 161.14 235.75)"/><rect x="163.99" y="234.33" width="2.45" height="2.45" transform="rotate(-2.6 165.21 235.56)"/><rect x="168.05" y="234.15" width="2.45" height="2.45" transform="rotate(-2.4 169.28 235.38)"/><rect x="172.12" y="233.99" width="2.45" height="2.45" transform="rotate(-2.2 173.35 235.21)"/><rect x="176.19" y="233.83" width="2.45" height="2.45" transform="rotate(-2.1 177.42 235.06)"/><rect x="180.26" y="233.69" width="2.45" height="2.45" transform="rotate(-1.9 181.48 234.92)"/><rect x="184.33" y="233.56" width="2.45" height="2.45" transform="rotate(-1.8 185.55 234.79)"/><rect x="188.4" y="233.44" width="2.45" height="2.45" transform="rotate(-1.7 189.62 234.67)"/><rect x="192.47" y="233.33" width="2.45" height="2.45" transform="rotate(-1.6 193.69 234.55)"/><rect x="196.54" y="233.22" width="2.45" height="2.45" transform="rotate(-1.5 197.76 234.44)"/><rect x="200.61" y="233.11" width="2.45" height="2.45" transform="rotate(-1.4 201.83 234.34)"/><rect x="204.68" y="233.02" width="2.45" height="2.45" transform="rotate(-1.4 205.91 234.24)"/><rect x="208.75" y="232.92" width="2.45" height="2.45" transform="rotate(-1.3 209.98 234.15)"/><rect x="212.82" y="232.84" width="2.45" height="2.45" transform="rotate(-1.1 214.05 234.06)"/><rect x="216.89" y="232.76" width="2.45" height="2.45" transform="rotate(-1.0 218.12 233.98)"/><rect x="220.96" y="232.7" width="2.45" height="2.45" transform="rotate(-0.8 222.19 233.92)"/><rect x="225.03" y="232.66" width="2.45" height="2.45" transform="rotate(-0.3 226.26 233.88)"/><rect x="229.11" y="232.66" width="2.45" height="2.45" transform="rotate(0.5 230.33 233.89)"/><rect x="233.18" y="232.74" width="2.45" height="2.45" transform="rotate(1.8 234.4 233.96)"/><rect x="237.24" y="232.92" width="2.45" height="2.45" transform="rotate(3.3 238.47 234.15)"/><rect x="241.31" y="233.18" width="2.45" height="2.45" transform="rotate(4.8 242.53 234.41)"/><rect x="245.35" y="233.68" width="2.45" height="2.45" transform="rotate(9.3 246.57 234.91)"/><rect x="249.37" y="234.32" width="2.45" height="2.45" transform="rotate(8.0 250.59 235.54)"/><rect x="253.4" y="234.9" width="2.45" height="2.45" transform="rotate(9.0 254.62 236.13)"/><rect x="257.4" y="235.65" width="2.45" height="2.45" transform="rotate(12.8 258.62 236.88)"/><rect x="261.35" y="236.66" width="2.45" height="2.45" transform="rotate(15.3 262.57 237.88)"/><rect x="265.27" y="237.74" width="2.45" height="2.45" transform="rotate(14.8 266.49 238.97)"/><rect x="269.06" y="239.18" width="2.45" height="2.45" transform="rotate(28.5 270.29 240.4)"/><rect x="272.44" y="241.45" width="2.45" height="2.45" transform="rotate(39.8 273.66 242.67)"/><rect x="275.2" y="244.42" width="2.45" height="2.45" transform="rotate(55.8 276.42 245.65)"/><rect x="277.08" y="248.03" width="2.45" height="2.45" transform="rotate(65.6 278.31 249.25)"/><rect x="278.67" y="251.77" width="2.45" height="2.45" transform="rotate(66.7 279.9 253)"/></g>
<g fill="#d80a1e"><rect x="309.17" y="218.88" width="2.45" height="2.45" transform="rotate(-5.3 310.4 220.1)"/><rect x="313.26" y="218.49" width="2.45" height="2.45" transform="rotate(-5.4 314.49 219.72)"/><rect x="317.35" y="218.11" width="2.45" height="2.45" transform="rotate(-5.4 318.58 219.33)"/><rect x="321.44" y="217.73" width="2.45" height="2.45" transform="rotate(-5.3 322.67 218.95)"/><rect x="325.53" y="217.36" width="2.45" height="2.45" transform="rotate(-5.1 326.76 218.58)"/><rect x="329.62" y="217" width="2.45" height="2.45" transform="rotate(-4.9 330.85 218.23)"/><rect x="333.71" y="216.66" width="2.45" height="2.45" transform="rotate(-4.8 334.94 217.88)"/><rect x="337.81" y="216.32" width="2.45" height="2.45" transform="rotate(-4.7 339.03 217.54)"/><rect x="341.9" y="215.99" width="2.45" height="2.45" transform="rotate(-4.7 343.12 217.21)"/><rect x="345.99" y="215.65" width="2.45" height="2.45" transform="rotate(-4.7 347.22 216.88)"/><rect x="350.08" y="215.31" width="2.45" height="2.45" transform="rotate(-4.8 351.31 216.54)"/><rect x="354.18" y="214.97" width="2.45" height="2.45" transform="rotate(-4.8 355.4 216.19)"/><rect x="358.27" y="214.62" width="2.45" height="2.45" transform="rotate(-4.9 359.49 215.84)"/><rect x="362.36" y="214.26" width="2.45" height="2.45" transform="rotate(-5.0 363.58 215.49)"/><rect x="366.45" y="213.9" width="2.45" height="2.45" transform="rotate(-5.1 367.67 215.13)"/><rect x="370.54" y="213.54" width="2.45" height="2.45" transform="rotate(-5.1 371.76 214.76)"/><rect x="374.63" y="213.17" width="2.45" height="2.45" transform="rotate(-5.1 375.85 214.4)"/><rect x="378.72" y="212.8" width="2.45" height="2.45" transform="rotate(-5.1 379.94 214.03)"/><rect x="382.81" y="212.44" width="2.45" height="2.45" transform="rotate(-5.1 384.03 213.66)"/><rect x="386.9" y="212.07" width="2.45" height="2.45" transform="rotate(-5.1 388.12 213.3)"/><rect x="390.99" y="211.71" width="2.45" height="2.45" transform="rotate(-5.1 392.21 212.93)"/><rect x="395.08" y="211.34" width="2.45" height="2.45" transform="rotate(-5.0 396.3 212.57)"/><rect x="399.17" y="210.99" width="2.45" height="2.45" transform="rotate(-5.0 400.4 212.21)"/><rect x="403.26" y="210.64" width="2.45" height="2.45" transform="rotate(-4.9 404.49 211.86)"/><rect x="407.35" y="210.29" width="2.45" height="2.45" transform="rotate(-4.7 408.58 211.52)"/><rect x="411.45" y="209.96" width="2.45" height="2.45" transform="rotate(-4.5 412.67 211.19)"/><rect x="415.54" y="209.65" width="2.45" height="2.45" transform="rotate(-4.3 416.77 210.87)"/><rect x="419.64" y="209.35" width="2.45" height="2.45" transform="rotate(-4.1 420.86 210.57)"/><rect x="423.73" y="209.07" width="2.45" height="2.45" transform="rotate(-3.8 424.96 210.29)"/><rect x="427.83" y="208.8" width="2.45" height="2.45" transform="rotate(-3.7 429.06 210.02)"/><rect x="431.93" y="208.53" width="2.45" height="2.45" transform="rotate(-3.7 433.15 209.76)"/><rect x="436.03" y="208.26" width="2.45" height="2.45" transform="rotate(-3.8 437.25 209.49)"/><rect x="440.12" y="207.98" width="2.45" height="2.45" transform="rotate(-4.0 441.35 209.21)"/><rect x="444.22" y="207.7" width="2.45" height="2.45" transform="rotate(-3.9 445.44 208.92)"/><rect x="448.32" y="207.42" width="2.45" height="2.45" transform="rotate(-3.9 449.54 208.64)"/><rect x="452.41" y="207.13" width="2.45" height="2.45" transform="rotate(-3.9 453.64 208.36)"/><rect x="456.51" y="206.85" width="2.45" height="2.45" transform="rotate(-3.9 457.73 208.08)"/><rect x="460.61" y="206.57" width="2.45" height="2.45" transform="rotate(-3.9 461.83 207.8)"/><rect x="464.7" y="206.29" width="2.45" height="2.45" transform="rotate(-3.9 465.93 207.52)"/><rect x="468.8" y="206.01" width="2.45" height="2.45" transform="rotate(-3.9 470.02 207.24)"/><rect x="472.9" y="205.73" width="2.45" height="2.45" transform="rotate(-3.9 474.12 206.96)"/><rect x="476.99" y="205.46" width="2.45" height="2.45" transform="rotate(-3.8 478.22 206.68)"/><rect x="481.09" y="205.19" width="2.45" height="2.45" transform="rotate(-3.8 482.32 206.41)"/><rect x="485.19" y="204.92" width="2.45" height="2.45" transform="rotate(-3.8 486.41 206.14)"/><rect x="489.29" y="204.64" width="2.45" height="2.45" transform="rotate(-4.3 490.51 205.86)"/><rect x="493.37" y="204.26" width="2.45" height="2.45" transform="rotate(-5.8 494.6 205.48)"/><rect x="497.47" y="204.12" width="2.45" height="2.45" transform="rotate(5.0 498.7 205.35)"/><rect x="501.41" y="205.22" width="2.45" height="2.45" transform="rotate(22.8 502.64 206.45)"/><rect x="505.07" y="207.07" width="2.45" height="2.45" transform="rotate(26.2 506.3 208.3)"/></g>
<line x1="250.9" y1="61.6" x2="230.9" y2="81.4" stroke="#cc0a1e" stroke-width="1.25"/><path d="M224 87.8L229.2 75.3L230.9 81.4L237.7 82.9Z" fill="#f00010"/>
<line x1="176.05" y1="140.4" x2="171" y2="157.4" stroke="#000" stroke-width="1.3"/><path d="M168.3 166.4L166.3 152.8L171 157.4L176.6 156.5Z" fill="#000"/>
<g fill="#000">
<text class="t" x="65.3" y="25.3" text-anchor="end">10<tspan font-size="13.8" dy="-9.5" dx="-0.6">22</tspan></text>
<text class="t" x="65.3" y="87.3" text-anchor="end">10<tspan font-size="13.8" dy="-9.5" dx="-0.6">20</tspan></text>
<text class="t" x="65.3" y="149.3" text-anchor="end">10<tspan font-size="13.8" dy="-9.5" dx="-0.6">18</tspan></text>
<text class="t" x="65.3" y="214.1" text-anchor="end">10<tspan font-size="13.8" dy="-9.5" dx="-0.6">22</tspan></text>
<text class="t" x="65.3" y="276.1" text-anchor="end">10<tspan font-size="13.8" dy="-9.5" dx="-0.6">20</tspan></text>
<text class="t" x="65.3" y="338.1" text-anchor="end">10<tspan font-size="13.8" dy="-9.5" dx="-0.6">18</tspan></text>
<text class="b" font-size="20.2" transform="translate(22.4 149.4) rotate(-90)">Density, m<tspan font-size="15" dy="-11">-3</tspan></text>
<text class="b" font-size="20.2" transform="translate(22.4 338.2) rotate(-90)">Density, m<tspan font-size="15" dy="-11">-3</tspan></text>
<text class="t" x="82.1" y="397.9" text-anchor="middle">0</text>
<text class="t" x="182.3" y="397.9" text-anchor="middle">0.5</text>
<text class="t" x="282.2" y="397.9" text-anchor="middle">1</text>
<text class="t" x="308.3" y="397.9" text-anchor="middle">0</text>
<text class="t" x="408.5" y="397.9" text-anchor="middle">0.5</text>
<text class="t" x="508.6" y="397.9" text-anchor="middle">1</text>
<text class="b" font-size="20" x="181.6" y="421.5" text-anchor="middle">x/d</text>
<text class="b" font-size="20" x="407.9" y="421.5" text-anchor="middle">x/d</text>
<text x="94.40" y="36.6" font-size="19.5" font-weight="bold">(a)</text>
<text x="123.10" y="36.6" font-size="19.5" font-weight="bold">n</text>
<text x="136.10" y="46.0" font-size="15" font-weight="bold">p0</text>
<text x="154.00" y="36.6" font-size="19.5" font-weight="bold">=</text>
<text x="166.30" y="36.6" font-size="19.5" font-weight="bold">10</text>
<text x="189.60" y="26.8" font-size="15" font-weight="bold">19</text>
<text x="209.00" y="36.6" font-size="19.5" font-weight="bold">m</text>
<text x="227.70" y="26.8" font-size="15" font-weight="bold">-3</text>
<text x="318.00" y="36.5" font-size="19.5" font-weight="bold">(b)</text>
<text x="348.00" y="36.5" font-size="19.5" font-weight="bold">10</text>
<text x="369.60" y="26.8" font-size="15" font-weight="bold">20</text>
<text x="391.80" y="36.5" font-size="19.5" font-weight="bold">m</text>
<text x="410.60" y="26.8" font-size="15" font-weight="bold">-3</text>
<text x="93.70" y="221.1" font-size="19.5" font-weight="bold">(c)</text>
<text x="122.70" y="221.1" font-size="19.5" font-weight="bold">4</text>
<text x="150.25" y="221.1" font-size="19.5" font-weight="bold">10</text>
<text x="171.90" y="211.3" font-size="15" font-weight="bold">20</text>
<text x="194.10" y="221.1" font-size="19.5" font-weight="bold">m</text>
<text x="211.90" y="211.3" font-size="15" font-weight="bold">-3</text>
<text x="380.20" y="324.5" font-size="19.5" font-weight="bold">(d)</text>
<text x="411.20" y="324.5" font-size="19.5" font-weight="bold">10</text>
<text x="432.60" y="314.6" font-size="15" font-weight="bold">21</text>
<text x="455.00" y="324.5" font-size="19.5" font-weight="bold">m</text>
<text x="473.20" y="314.6" font-size="15" font-weight="bold">-3</text>
<text x="485.50" y="324.5" font-size="19.5" font-weight="bold">,</text>
<text x="410.90" y="353.9" font-size="19.5" font-weight="bold">10</text>
<text x="433.10" y="344.0" font-size="15" font-weight="bold">22</text>
<text x="455.10" y="353.9" font-size="19.5" font-weight="bold">m</text>
<text x="473.00" y="344.0" font-size="15" font-weight="bold">-3</text>
<text x="141.8" y="224.6" font-size="25" text-anchor="middle">×</text>
</g>
<text font-size="16" x="250.9" y="50" fill="#d0001c" stroke="#d0001c" stroke-width="0.5">n</text><text font-size="13" x="260.3" y="58.3" fill="#d0001c" stroke="#d0001c" stroke-width="0.4">i</text>
<text font-size="14.5" x="167.8" y="129.6" fill="#000" stroke="#000" stroke-width="0.5">n</text><text font-size="12" x="176.3" y="137.9" fill="#000" stroke="#000" stroke-width="0.45">e</text>

</svg>
</body></html>
